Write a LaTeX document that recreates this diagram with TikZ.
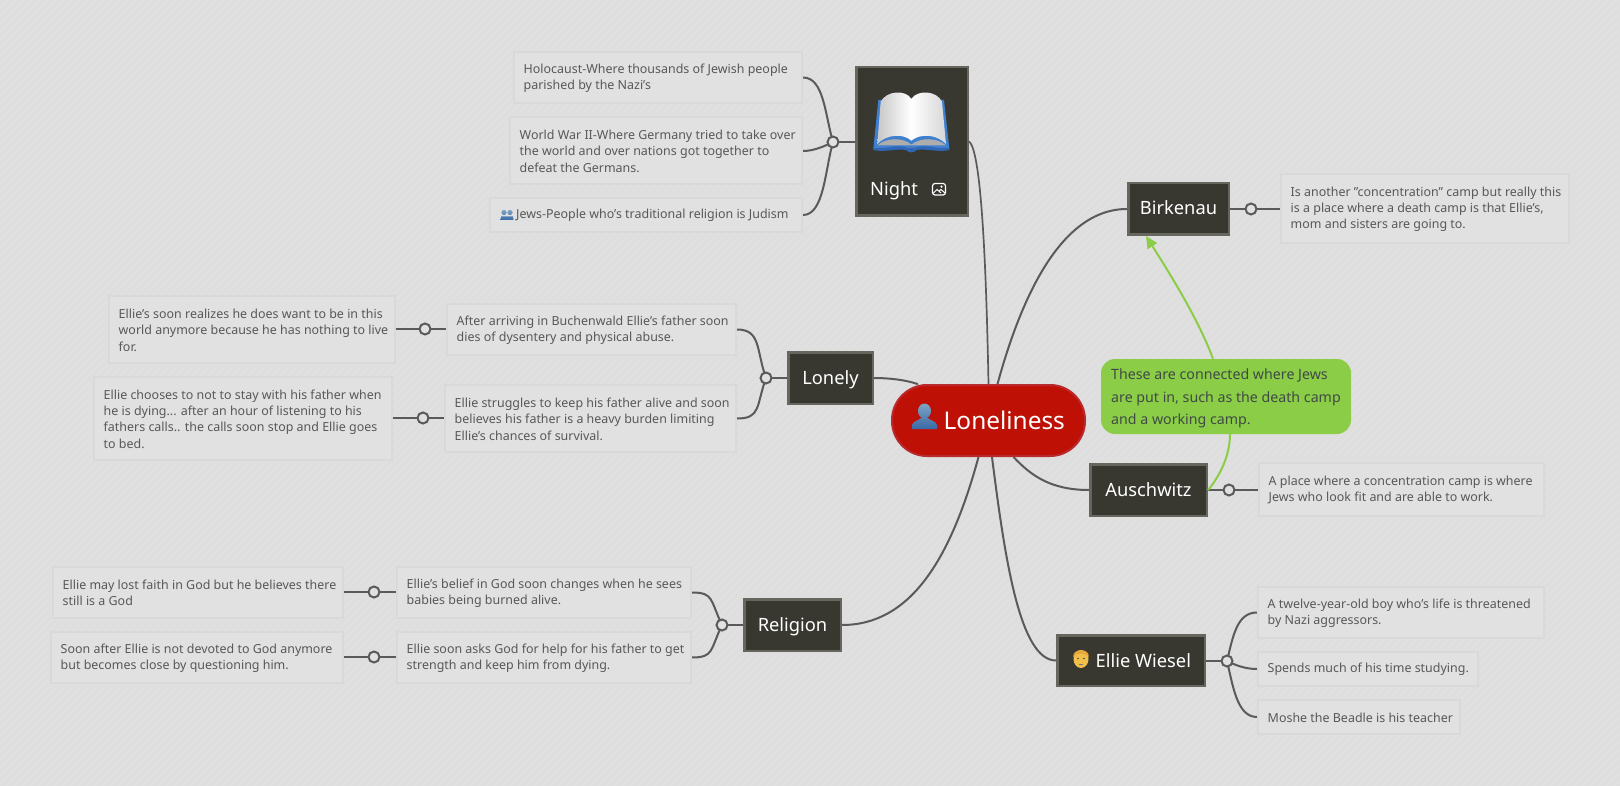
\documentclass[tikz,border=0pt]{standalone}
\usepackage{fontspec}
\setmainfont{Noto Sans}
\usetikzlibrary{arrows.meta}
\definecolor{bgA}{HTML}{DEDEDE}
\definecolor{bgB}{HTML}{E0E0E0}
\definecolor{boxfill}{HTML}{E1E1E1}
\definecolor{boxline}{HTML}{D9D9D9}
\definecolor{bodytxt}{HTML}{585858}
\definecolor{darkfill}{HTML}{383831}
\definecolor{darkline}{HTML}{66665F}
\definecolor{linecol}{HTML}{5A5A5A}
\definecolor{greennote}{HTML}{8BCD47}
\definecolor{notetxt}{HTML}{3F4A45}
\definecolor{redfill}{HTML}{BF1005}
\definecolor{redline}{HTML}{B82A2E}
\definecolor{bluehi}{HTML}{7FA3C2}
\definecolor{bluelo}{HTML}{386AA6}
\definecolor{coverblue}{HTML}{3F7FCF}
\definecolor{coverdark}{HTML}{2E66B8}
\definecolor{faceyel}{HTML}{F2C04A}
\definecolor{hairyel}{HTML}{E9A63A}
\pgfdeclarelayer{bg}
\pgfsetlayers{bg,main}
\tikzset{
  tbox/.style={draw=boxline,fill=boxfill,line width=2pt,inner sep=0pt},
  ttxt/.style={inner sep=0pt,anchor=west,align=left,text=bodytxt,font=\fontsize{12.45}{16.3}\selectfont},
  dbox/.style={draw=darkline,fill=darkfill,line width=2.5pt,inner sep=0pt,text=white,
    text height=14pt,text depth=2pt,font=\fontsize{18.3}{22}\selectfont},
  jnode/.style={circle,draw=linecol,fill=boxfill,line width=2pt,minimum size=11pt,inner sep=0pt},
  conn/.style={draw=linecol,line width=2pt,line cap=round},
  relc/.style={draw=greennote,line width=2pt},
  freetxt/.style={inner sep=0pt,anchor=base west,text=white}
}
% name, x1, y1, x2, y2, text
\newcommand\tbx[6]{\node[tbox,minimum width={#4-#2-2},minimum height={#5-#3-2}] (#1) at ({(#2+#4)/2},{(#3+#5)/2}) {};
  \node[ttxt] (#1t) at ({#2+10.5},{(#3+#5)/2+0.6}) {#6};}
\newcommand\dbx[6]{\node[dbox,minimum width={#4-#2-2.5},minimum height={#5-#3-2.5}] (#1) at ({(#2+#4)/2},{(#3+#5)/2}) {#6};}
\begin{document}
\begin{tikzpicture}[x=1pt,y=-1pt]
\useasboundingbox (0,0) rectangle (1620,786);

% central topic
\node[draw=redline,fill=redfill,line width=2pt,rounded corners=35pt,minimum width=193pt,minimum height=71pt,inner sep=0pt] (lone) at (988.5,420.5) {};
\node[freetxt,font=\fontsize{24.4}{30}\selectfont] (lonet) at (943.5,429) {Loneliness};
% person icon
\shade[top color=bluehi,bottom color=bluelo] (924.5,411) ellipse (6.5 and 7.5)
  (912,429) -- (912,425) .. controls (913,421) and (918,421) .. (921,418) -- (928,418) .. controls (931,421) and (936,421) .. (937,425) -- (937,429) -- cycle;

% main topics
\dbx{night}{855}{66}{969}{217}{}
\node[freetxt,font=\fontsize{18.3}{22}\selectfont] (nightt) at (870,195.5) {Night};
\dbx{birk}{1127}{182}{1230}{236}{Birkenau}
\dbx{lonely}{787}{351}{874}{405}{Lonely}
\dbx{ausch}{1089}{463}{1208}{517}{Auschwitz}
\dbx{relig}{743}{598}{842}{652}{Religion}
\dbx{ellie}{1056}{634}{1206}{687}{}
\node[freetxt,font=\fontsize{18.3}{22}\selectfont] (elliet) at (1095.5,667.5) {Ellie Wiesel};

% book icon
\begin{scope}[shift={(780,50)},x=0.3333pt,y=-0.3333pt]
  \fill[coverblue] (295,150) -- (280,296) -- (508,296) -- (492,150) -- cycle;
  \fill[coverdark] (280,294) .. controls (300,305) and (350,280) .. (378,292) .. controls (385,300) and (403,300) .. (410,292) .. controls (440,280) and (490,305) .. (508,294) -- (508,300) .. controls (480,308) and (440,295) .. (410,300) .. controls (400,310) and (388,310) .. (378,300) .. controls (350,295) and (310,308) .. (280,300) -- cycle;
  \fill[black!32] (292,286) .. controls (320,262) and (370,262) .. (394,284) .. controls (420,262) and (470,262) .. (498,286) -- cycle;
  \shade[left color=black!22,right color=white] (302,155) .. controls (320,122) and (375,118) .. (394,146) -- (394,272) .. controls (370,250) and (320,252) .. (292,282) -- cycle;
  \shade[left color=white,right color=black!16] (394,146) .. controls (415,118) and (470,122) .. (486,155) -- (498,282) .. controls (470,252) and (420,250) .. (394,272) -- cycle;
\end{scope}
% image icon
\draw[white,line width=1.2pt,rounded corners=2.5pt] (932.5,183.5) rectangle (945.5,195);
\fill[white] (941.5,186.6) circle (1.2);
\draw[white,line width=1pt] (933,193.5) -- (937,189.5) -- (941,193) (939,191) -- (941,189.5) -- (945,193);

% face icon
\fill[faceyel] (1081,659) ellipse (7.5 and 9);
\fill[hairyel] (1073.3,657) .. controls (1072,648) and (1090,648) .. (1088.7,657) .. controls (1084,652.5) and (1078,652.5) .. (1073.3,657) -- cycle;
\fill[black!70] (1078,658.5) circle (0.9) (1084,658.5) circle (0.9);
\draw[black!55,line width=0.7pt] (1079,664) -- (1083,664);

% text boxes
\tbx{ha}{513}{51}{803}{104}{Holocaust-Where thousands of Jewish people\\parished by the Nazi's}
\tbx{hb}{509}{116}{803}{185}{World War II-Where Germany tried to take over\\the world and over nations got together to\\defeat the Germans.}
\tbx{hc}{489}{197}{803}{233}{\hspace*{16.5pt}Jews-People who's traditional religion is Judism}
\shade[top color=bluehi,bottom color=bluelo] (504,212.5) circle (2.6) (510,212.5) circle (2.6)
  (500.5,220) -- (501,216.5) -- (507,216.5) -- (507,220) -- cycle (507,220) -- (507,216.5) -- (513,216.5) -- (513.5,220) -- cycle;
\tbx{la}{108}{295}{396}{364}{Ellie's soon realizes he does want to be in this\\world anymore because he has nothing to live\\for.}
\tbx{lb}{93}{376}{393}{461}{Ellie chooses to not to stay with his father when\\he is dying... after an hour of listening to his\\fathers calls.. the calls soon stop and Ellie goes\\to bed.}
\tbx{lc}{446}{303}{737}{356}{After arriving in Buchenwald Ellie's father soon\\dies of dysentery and physical abuse.}
\tbx{ld}{444}{384}{737}{453}{Ellie struggles to keep his father alive and soon\\believes his father is a heavy burden limiting\\Ellie's chances of survival.}
\tbx{ra}{52}{566}{344}{619}{Ellie may lost faith in God but he believes there\\still is a God}
\tbx{rb}{50}{631}{344}{684}{Soon after Ellie is not devoted to God anymore\\but becomes close by questioning him.}
\tbx{rc}{396}{566}{692}{619}{Ellie's belief in God soon changes when he sees\\babies being burned alive.}
\tbx{rd}{396}{631}{692}{684}{Ellie soon asks God for help for his father to get\\strength and keep him from dying.}
\tbx{ba}{1280}{173}{1570}{244}{Is another "concentration" camp but really this\\is a place where a death camp is that Ellie's,\\mom and sisters are going to.}
\tbx{aa}{1258}{462}{1545}{517}{A place where a concentration camp is where\\Jews who look fit and are able to work.}
\tbx{ea}{1257}{586}{1545}{639}{A twelve-year-old boy who's life is threatened\\by Nazi aggressors.}
\tbx{eb}{1257}{651}{1479}{687}{Spends much of his time studying.}
\tbx{ec}{1257}{699}{1461}{735}{Moshe the Beadle is his teacher}

% green note
\node[fill=greennote,rounded corners=14pt,minimum width=250pt,minimum height=75pt,inner sep=0pt] (note) at (1226,396.5) {};
\node[inner sep=0pt,anchor=west,align=left,text=notetxt,font=\fontsize{14.2}{22.2}\selectfont] (notet) at (1111,398.5) {These are connected where Jews\\are put in, such as the death camp\\and a working camp.};

% junctions
\node[jnode] (jn) at (833,142) {};
\node[jnode] (jl) at (766,378) {};
\node[jnode] (jla) at (425,329) {};
\node[jnode] (jlb) at (423,418) {};
\node[jnode] (jr) at (722,625) {};
\node[jnode] (jra) at (374,592) {};
\node[jnode] (jrb) at (374,657) {};
\node[jnode] (jb) at (1251,209) {};
\node[jnode] (ja) at (1229,490) {};
\node[jnode] (je) at (1227,661) {};

\begin{pgfonlayer}{bg}
\fill[bgA] (0,0) rectangle (1620,786);
\begin{scope}
\clip (0,0) rectangle (1620,786);
\foreach \i in {0,8,...,2420} {\draw[bgB,line width=2.8pt] (\i,0) -- (\i-800,800);}
\end{scope}
% main branches
\draw[conn,line width=1.7pt] (night.east) .. controls +(13,9) and +(-2,-104) .. (lone.north);
\draw[conn] (birk.west) .. controls +(-67,0) and +(23,-84) .. ([xshift=9]lone.north);
\draw[conn] (lonely.east) .. controls +(16,0) and +(-12,-4) .. ([xshift=-71]lone.north);
\draw[conn] (relig.east) .. controls +(68,0) and +(-28,103) .. ([xshift=-10]lone.south);
\draw[conn] (ausch.west) .. controls +(-39,0) and +(17,18) .. ([xshift=25]lone.south);
\draw[conn] (ellie.west) .. controls +(-36,0) and +(13,103) .. ([xshift=3.5]lone.south);
% Night
\draw[conn] (jn) -- (jn -| night.west);
\draw[conn] (ha.east) .. controls +(21,0) and +(-8,-27) .. (jn.center);
\draw[conn] ([yshift=-.5]hb.east) .. controls +(11,0) and +(-8,4) .. (jn.center);
\draw[conn] (hc.east) .. controls +(21,0) and +(-8,28) .. (jn.center);
% Lonely
\draw[conn] (jl) -- (jl -| lonely.west);
\draw[conn] (lc.east) .. controls +(24,0) and +(-10,-28) .. (jl.center);
\draw[conn] (ld.east) .. controls +(24,0) and +(-10,28) .. (jl.center);
\draw[conn] (la.east |- jla) -- (jla -| lc.west);
\draw[conn] (lb.east |- jlb) -- (jlb -| ld.west);
% Religion
\draw[conn] (jr) -- (jr -| relig.west);
\draw[conn] (rc.east) .. controls +(22,0) and +(-12,-25) .. (jr.center);
\draw[conn] (rd.east) .. controls +(22,0) and +(-12,25) .. (jr.center);
\draw[conn] (ra.east |- jra) -- (jra -| rc.west);
\draw[conn] (rb.east |- jrb) -- (jrb -| rd.west);
% Birkenau, Auschwitz, Ellie Wiesel
\draw[conn] (birk.east |- jb) -- (jb -| ba.west);
\draw[conn] (ausch.east |- ja) -- (ja -| aa.west);
\draw[conn] (je -| ellie.east) -- (je);
\draw[conn] (ea.west) .. controls +(-20,0) and +(6,-25) .. (je.center);
\draw[conn] (eb.west) .. controls +(-12,0) and +(8,4) .. (je.center);
\draw[conn] (ec.west) .. controls +(-20,0) and +(6,25) .. (je.center);
\end{pgfonlayer}

% relationship
\draw[relc,-{Stealth[length=12pt,width=11pt,inset=0pt]}] ([xshift=-13]note.north) .. controls +(-14,-38) and +(26,41) .. ([xshift=-32.5]birk.south);
\draw[relc] ([xshift=4]note.south) .. controls +(0,21) and +(12,-14) .. (ausch.east);
\end{tikzpicture}
\end{document}
